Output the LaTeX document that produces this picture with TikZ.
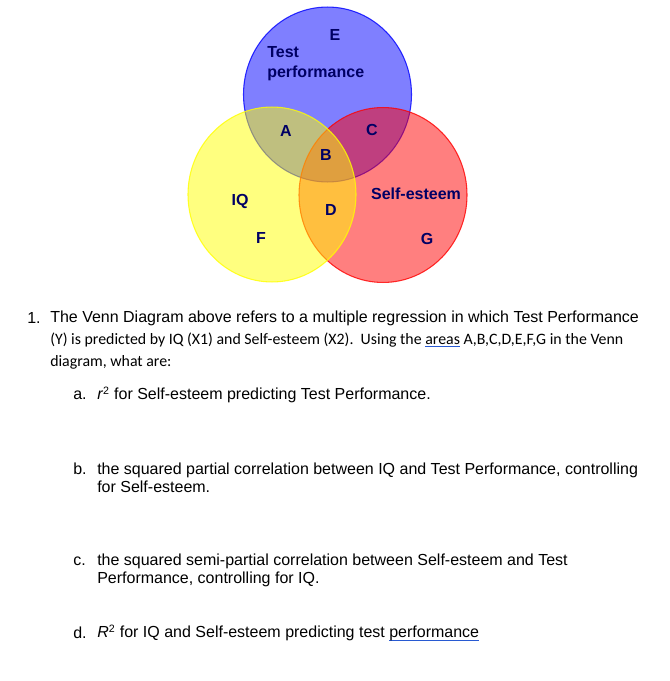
\documentclass[tikz,border=0pt]{standalone}
\usepackage{fontspec}
\setmainfont{Liberation Sans}
\newfontfamily\calibri{Carlito}
\usepackage{tikz}
\usetikzlibrary{positioning}

\definecolor{vennlbl}{RGB}{0,0,100}
\definecolor{ulblue}{RGB}{40,90,210}
\definecolor{vyellow}{RGB}{255,255,0}
\newsavebox{\spellbox}
\newcommand{\spellul}[1]{\sbox{\spellbox}{#1}%
  \rlap{\textcolor{ulblue}{\rule[-2.2pt]{\wd\spellbox}{0.7pt}}}\usebox{\spellbox}}

\begin{document}
\begin{tikzpicture}[
  x=0.75pt,y=-0.75pt,
  venn/.style={fill opacity=0.5,draw opacity=0.8,line width=0.8pt},
  lbl/.style={font=\fontsize{12}{15}\selectfont\bfseries,text=vennlbl,inner sep=0pt},
  body/.style={font=\fontsize{12}{13.5}\selectfont,anchor=west,inner sep=0pt,align=left},
  cbody/.style={font=\calibri\fontsize{11.9}{16.5}\selectfont,anchor=west,inner sep=0pt,
    align=left},
  num/.style={font=\fontsize{12}{13.5}\selectfont,anchor=west,inner sep=0pt},
]
  \useasboundingbox[fill=white] (0,0) rectangle (670,681);

  % the three sets
  \draw[venn,draw=blue,fill=blue] (327.5,94.5) ellipse [x radius=63pt,y radius=65.6pt];
  \draw[venn,draw=red,fill=red] (383,195) ellipse [x radius=63pt,y radius=65.6pt];
  \draw[venn,draw=vyellow,fill=vyellow] (272,194.5) ellipse [x radius=63pt,y radius=65.6pt];

  % area labels
  \node[lbl] (lE) at (335,35) {E};
  \node[lbl,anchor=west,align=left] (lTP) at (267,64) {Test\\performance};
  \node[lbl] (lA) at (286,131) {A};
  \node[lbl] (lC) at (372,130) {C};
  \node[lbl] (lB) at (326,155) {B};
  \node[lbl] (lIQ) at (240,201) {IQ};
  \node[lbl] (lD) at (331,210) {D};
  \node[lbl] (lSE) at (416,194) {Self-esteem};
  \node[lbl] (lF) at (261,238) {F};
  \node[lbl] (lG) at (427,239) {G};

  % question
  \node[num] (n1) at (27,318) {1.};
  \node[body] (q1) at (50,318)
    {The Venn Diagram above refers to a multiple regression in which Test Performance};
  \node[cbody] (q1b) at (50,351)
    {(Y) is predicted by IQ (X1) and Self-esteem (X2).\ \ Using the \spellul{areas} A,B,C,D,E,F,G in the Venn\\diagram, what are:};

  \node[num] (na) at (73,395) {a.};
  \node[body] (qa) at (97,395)
    {\textit{r}\textsuperscript{2} for Self-esteem predicting Test Performance.};
  \node[num] (nb) at (73,469) {b.};
  \node[body] (qb) at (97,478)
    {the squared partial correlation between IQ and Test Performance, controlling\\for Self-esteem.};
  \node[num] (nc) at (73,561) {c.};
  \node[body] (qc) at (97,570)
    {the squared semi-partial correlation between Self-esteem and Test\\Performance, controlling for IQ.};
  \node[num] (nd) at (73,633) {d.};
  \node[body] (qd) at (97,633)
    {\textit{R}\textsuperscript{2} for IQ and Self-esteem predicting test \spellul{performance}};
\end{tikzpicture}
\end{document}
